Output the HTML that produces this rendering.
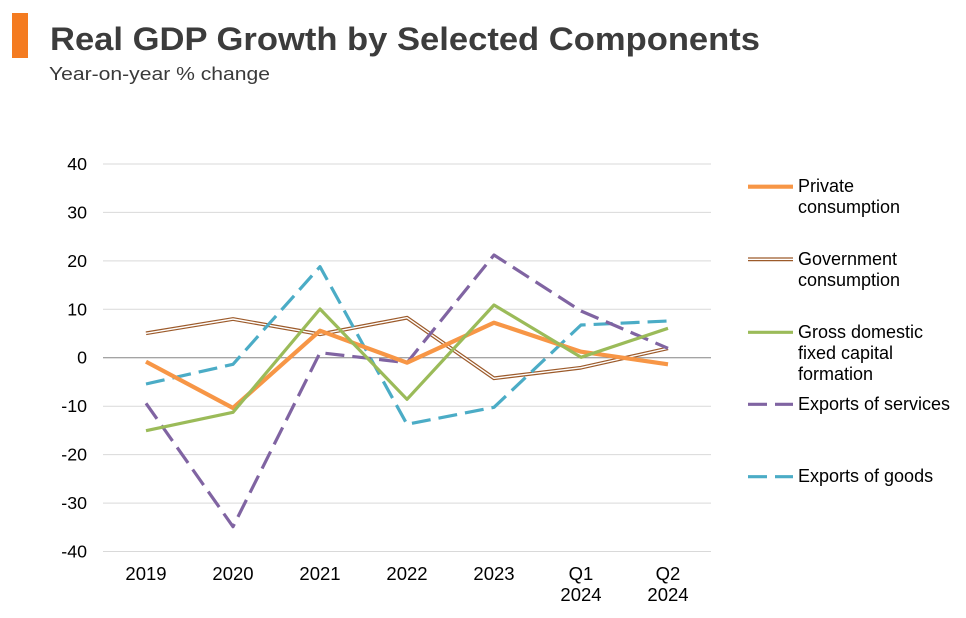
<!DOCTYPE html>
<html>
<head>
<meta charset="utf-8">
<style>
  html,body{margin:0;padding:0;background:#fff;}
  svg{display:block;}
  text{font-family:"Liberation Sans",Arial,sans-serif;}
</style>
</head>
<body>
<svg width="966" height="618" viewBox="0 0 966 618" xmlns="http://www.w3.org/2000/svg">
  <rect x="0" y="0" width="966" height="618" fill="#fff"/>
  <!-- header -->
  <rect x="12" y="13" width="16" height="45" fill="#F47B20"/>
  <text x="50" y="50" font-size="32" font-weight="bold" fill="#3C3C3C" textLength="710" lengthAdjust="spacingAndGlyphs">Real GDP Growth by Selected Components</text>
  <text x="49" y="80" font-size="18.5" fill="#3A3A3A" textLength="221" lengthAdjust="spacingAndGlyphs">Year-on-year % change</text>

  <!-- gridlines -->
  <g stroke="#D9D9D9" stroke-width="1">
    <line x1="103" y1="164" x2="711" y2="164"/>
    <line x1="103" y1="212.4" x2="711" y2="212.4"/>
    <line x1="103" y1="260.9" x2="711" y2="260.9"/>
    <line x1="103" y1="309.3" x2="711" y2="309.3"/>
    <line x1="103" y1="406.2" x2="711" y2="406.2"/>
    <line x1="103" y1="454.6" x2="711" y2="454.6"/>
    <line x1="103" y1="503.1" x2="711" y2="503.1"/>
    <line x1="103" y1="551.5" x2="711" y2="551.5"/>
  </g>
  <line x1="103" y1="357.7" x2="711" y2="357.7" stroke="#868686" stroke-width="1"/>

  <!-- y labels -->
  <g font-size="17.8" fill="#000" text-anchor="end">
    <text x="87" y="170">40</text>
    <text x="87" y="218.4">30</text>
    <text x="87" y="266.9">20</text>
    <text x="87" y="315.3">10</text>
    <text x="87" y="363.7">0</text>
    <text x="87" y="412.2">-10</text>
    <text x="87" y="460.6">-20</text>
    <text x="87" y="509.1">-30</text>
    <text x="87" y="557.5">-40</text>
  </g>

  <!-- x labels -->
  <g font-size="18.5" fill="#000" text-anchor="middle">
    <text x="146" y="580">2019</text>
    <text x="233" y="580">2020</text>
    <text x="320" y="580">2021</text>
    <text x="407" y="580">2022</text>
    <text x="494" y="580">2023</text>
    <text x="581" y="580">Q1</text>
    <text x="581" y="601">2024</text>
    <text x="668" y="580">Q2</text>
    <text x="668" y="601">2024</text>
  </g>

  <!-- series -->
  <g fill="none" stroke-linejoin="round">
    <!-- Government consumption (double line) -->
    <polyline points="146,333.3 233,319 320,334.3 407,317.7 494,378.3 581,367.7 668,348.3" stroke="#9C5A2A" stroke-width="3.8"/>
    <polyline points="146,333.3 233,319 320,334.3 407,317.7 494,378.3 581,367.7 668,348.3" stroke="#FFFFFF" stroke-width="1.4"/>
    <!-- Exports of goods -->
    <polyline points="146,384 233,364.3 320,266.7 407,424.3 494,407.3 581,325 668,321" stroke="#4BACC6" stroke-width="3.2" stroke-dasharray="19 8"/>
    <!-- Exports of services -->
    <polyline points="146,403.3 233,526.7 320,352.7 407,362.7 494,255 581,311 668,348.3" stroke="#8064A2" stroke-width="3.2" stroke-dasharray="19 8"/>
    <!-- Private consumption -->
    <polyline points="146,361.7 233,408 320,330.7 407,362.7 494,322.7 581,351.7 668,364.3" stroke="#F79646" stroke-width="4.2"/>
    <!-- GFCF -->
    <polyline points="146,430.7 233,412.3 320,309 407,399.3 494,305 581,357.3 668,328.3" stroke="#9BBB59" stroke-width="3.2"/>
  </g>

  <!-- legend -->
  <g>
    <line x1="748" y1="186.7" x2="793" y2="186.7" stroke="#F79646" stroke-width="4.2"/>
    <line x1="748" y1="259.3" x2="793" y2="259.3" stroke="#9C5A2A" stroke-width="3.8"/>
    <line x1="748" y1="259.3" x2="793" y2="259.3" stroke="#FFFFFF" stroke-width="1.4"/>
    <line x1="748" y1="332.3" x2="793" y2="332.3" stroke="#9BBB59" stroke-width="3.2"/>
    <line x1="748" y1="404.3" x2="793" y2="404.3" stroke="#8064A2" stroke-width="3.2" stroke-dasharray="19 8"/>
    <line x1="748" y1="476.7" x2="793" y2="476.7" stroke="#4BACC6" stroke-width="3.2" stroke-dasharray="19 8"/>
  </g>
  <g font-size="18" fill="#000">
    <text x="798" y="192">Private</text>
    <text x="798" y="213">consumption</text>
    <text x="798" y="265">Government</text>
    <text x="798" y="286">consumption</text>
    <text x="798" y="338">Gross domestic</text>
    <text x="798" y="359">fixed capital</text>
    <text x="798" y="380">formation</text>
    <text x="798" y="410">Exports of services</text>
    <text x="798" y="482">Exports of goods</text>
  </g>
</svg>
</body>
</html>
